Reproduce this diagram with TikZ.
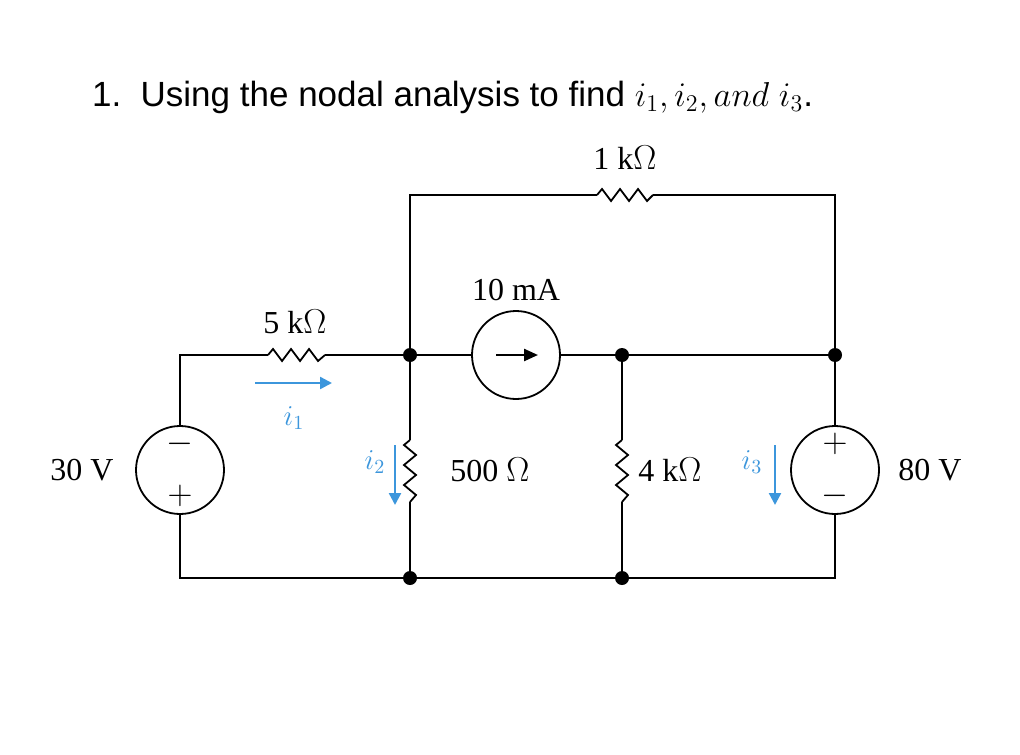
\documentclass[tikz,border=0pt]{standalone}
\usepackage{fontspec}
\setmainfont{Liberation Serif}
\newfontfamily\titlefont{Liberation Sans}
\usetikzlibrary{arrows.meta,calc}
\tikzset{
  wire/.style={line width=0.9pt},
  junc/.style={circle,fill=black,inner sep=0pt,minimum size=7pt},
  src/.style={circle,draw,line width=0.9pt,minimum size=44pt,inner sep=0pt},
  lbl/.style={font=\fontsize{16}{18}\selectfont},
  cur/.style={draw={rgb,255:red,60;green,150;blue,220},line width=1.2pt,-{Triangle[length=6pt,width=6pt]}},
  curlbl/.style={text={rgb,255:red,60;green,150;blue,220},font=\fontsize{14}{16}\selectfont}
}
\begin{document}
\begin{tikzpicture}[x=0.5pt,y=-0.5pt]
\useasboundingbox (0,0) rectangle (1020,754);
% title
\node[anchor=west,font=\titlefont\fontsize{17.5}{20}\selectfont] (title) at (85,97)
  {1.\ \ Using the nodal analysis to find $i_1, i_2, and\ i_3$.};
% junctions
\node[junc] (a) at (410,355) {};
\node[junc] (b) at (622,355) {};
\node[junc] (c) at (835,355) {};
\node[junc] (d) at (410,578) {};
\node[junc] (e) at (622,578) {};
\coordinate (tl) at (410,195);
\coordinate (tr) at (835,195);
\coordinate (ml) at (180,355);
\coordinate (bl) at (180,578);
\coordinate (br) at (835,578);
% sources
\node[src] (vl) at (180,470) {};
\node[src] (vr) at (835,470) {};
\node[src] (is) at (516,355) {};
\node[lbl] at ($(vl)+(0,-26)$) {$-$};
\node[lbl] at ($(vl)+(0,26)$) {$+$};
\node[lbl] at ($(vr)+(0,-26)$) {$+$};
\node[lbl] at ($(vr)+(0,26)$) {$-$};
\draw[line width=1.2pt,-{Triangle[length=7pt,width=6pt]}] ($(is)+(-20,0)$) -- ($(is)+(22,0)$);
% wires
\draw[wire] (vl) -- (ml) -- (268,355);
\draw[wire] (325,355) -- (a) -- (is);
\draw[wire] (is) -- (b) -- (c) -- (vr);
\draw[wire] (vl) -- (bl) -- (d) -- (e) -- (br) -- (vr);
\draw[wire] (a) -- (tl) -- (597,195);
\draw[wire] (653,195) -- (tr) -- (c);
\draw[wire] (a) -- (410,440);
\draw[wire] (410,502) -- (d);
\draw[wire] (b) -- (622,440);
\draw[wire] (622,502) -- (e);
% resistors
\draw[wire] (268,355) -- (273,349) -- (282,361) -- (291,349) -- (300,361) -- (309,349) -- (318,361) -- (325,355);
\draw[wire] (597,195) -- (602,189) -- (611,201) -- (620,189) -- (629,201) -- (638,189) -- (647,201) -- (653,195);
\draw[wire] (410,440) -- (404,445) -- (416,455) -- (404,465) -- (416,475) -- (404,485) -- (416,495) -- (410,502);
\draw[wire] (622,440) -- (616,445) -- (628,455) -- (616,465) -- (628,475) -- (616,485) -- (628,495) -- (622,502);
% labels
\node[lbl] at (625,158) {1 k$\Omega$};
\node[lbl] at (516,290) {10 mA};
\node[lbl] at (295,322) {5 k$\Omega$};
\node[lbl] at (82,470) {30 V};
\node[lbl] at (930,470) {80 V};
\node[lbl] at (490,470) {500 $\Omega$};
\node[lbl] at (670,470) {4 k$\Omega$};
% currents
\draw[cur] (255,383) -- (332,383);
\node[curlbl] at (294,418) {$i_1$};
\draw[cur] (395,445) -- (395,505);
\node[curlbl] at (375,462) {$i_2$};
\draw[cur] (775,445) -- (775,505);
\node[curlbl] at (752,462) {$i_3$};
\end{tikzpicture}
\end{document}
